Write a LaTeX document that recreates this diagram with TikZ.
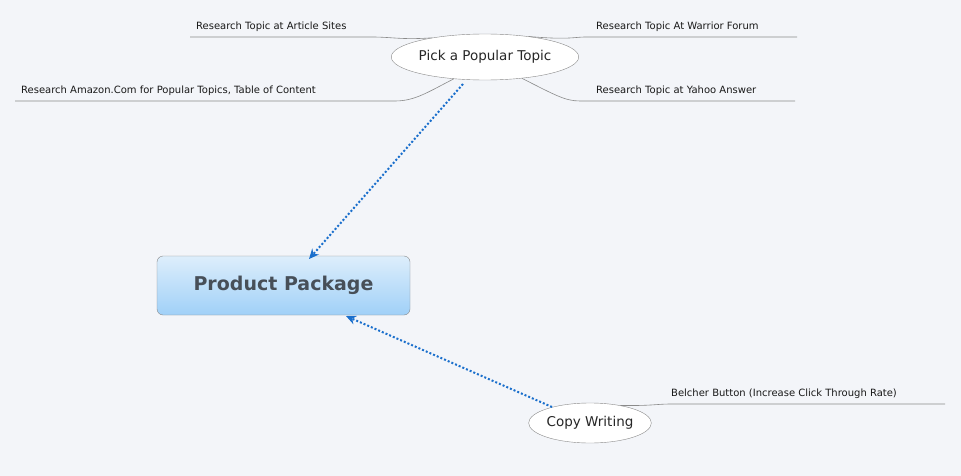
\documentclass[tikz,border=0pt]{standalone}
\usepackage{fontspec}
\setmainfont{DejaVu Sans}
\usetikzlibrary{shapes.geometric,arrows.meta}
\definecolor{bg}{HTML}{F3F5F9}
\definecolor{ln}{HTML}{8A8A8A}
\definecolor{arr}{HTML}{1A6FCC}
\definecolor{ptxt}{HTML}{474F58}
\definecolor{gtop}{HTML}{DDEEFB}
\definecolor{gbot}{HTML}{A0D0F8}
\begin{document}
\begin{tikzpicture}[x=1pt,y=-1pt,
  topic/.style={ellipse,draw=ln,fill=white,inner sep=0pt,font=\fontsize{13.5}{15}\selectfont,text=black!85},
  leaf/.style={anchor=south west,inner sep=0pt,font=\fontsize{10}{12}\selectfont,text=black!90},
  br/.style={draw=ln,line width=0.6pt},
  dep/.style={draw=arr,line width=2pt,dotted,-{Stealth[length=10pt,width=9pt]}}]
\fill[bg] (0,0) rectangle (961,476);
\useasboundingbox (0,0) rectangle (961,476);
\node[topic,minimum width=175pt,minimum height=46pt] (pick) at (485,57) {Pick a Popular Topic};
\node[topic,minimum width=115pt,minimum height=40pt] (copy) at (590,423) {Copy Writing};
\node[draw=ln,rounded corners=6pt,top color=gtop,bottom color=gbot,minimum width=253pt,minimum height=59pt,font=\bfseries\fontsize{19}{22}\selectfont,text=ptxt] (pp) at (283.5,285.5) {Product Package};
% leaves
\coordinate (a1) at (190,37); \coordinate (a2) at (372,37);
\node[leaf] (la) at (196,32) {Research Topic at Article Sites};
\coordinate (b1) at (15,101); \coordinate (b2) at (395,101);
\node[leaf] (lb) at (21,96) {Research Amazon.Com for Popular Topics, Table of Content};
\coordinate (c1) at (585,37); \coordinate (c2) at (797,37);
\node[leaf] (lc) at (596,32) {Research Topic At Warrior Forum};
\coordinate (d1) at (580,101); \coordinate (d2) at (795,101);
\node[leaf] (ld) at (596,96) {Research Topic at Yahoo Answer};
\coordinate (e1) at (670,404); \coordinate (e2) at (945,404);
\node[leaf] (le) at (671,399) {Belcher Button (Increase Click Through Rate)};
\draw[br] (a1) -- (a2) .. controls (392,37) and (402,40) .. (pick.160);
\draw[br] (b1) -- (b2) .. controls (415,101) and (428,92) .. (pick.-145);
\draw[br] (pick.25) .. controls (568,40) and (575,37) .. (c1) -- (c2);
\draw[br] (pick.-30) .. controls (555,95) and (565,101) .. (d1) -- (d2);
\draw[br] (copy.30) .. controls (650,406) and (658,404) .. (e1) -- (e2);
\coordinate (s1) at (463,84); \coordinate (t1) at (309,259);
\coordinate (s2) at (552,407); \coordinate (t2) at (346,316);
\draw[dep] (s1) -- (t1);
\draw[dep] (s2) -- (t2);
\end{tikzpicture}
\end{document}
